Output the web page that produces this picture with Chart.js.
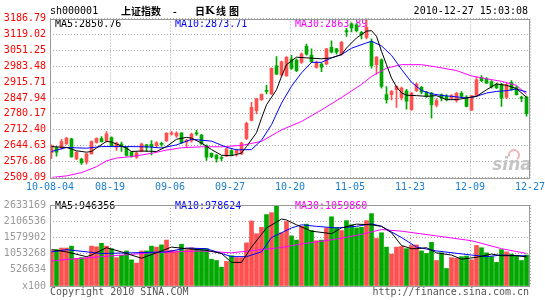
<!DOCTYPE html>
<html>
<head>
<meta charset="utf-8">
<script src="https://cdn.jsdelivr.net/npm/chart.js@4.4.1/dist/chart.umd.min.js"></script>
<style>
  html, body { margin: 0; padding: 0; background: #fff; }
  #wrap { position: relative; width: 545px; height: 300px; }
  canvas { position: absolute; left: 0; }
  #k { top: 0; }
  #v { top: 195px; }
</style>
</head>
<body>
<div id="wrap">
  <canvas id="k" width="545" height="195"></canvas>
  <canvas id="v" width="545" height="105"></canvas>
</div>
<script>
// values (one entry per trading day, 2010-08-04 .. 2010-12-27)
var dateLabels = ['10-08-04', '08-19', '09-06', '09-27', '10-20', '11-05', '11-23', '12-09', '12-27'];
var priceTicks = [2509.09, 2576.86, 2644.63, 2712.40, 2780.17, 2847.94, 2915.71, 2983.48, 3051.25, 3119.02, 3186.79];
var volTicks = [0, 526634, 1053268, 1579902, 2106536, 2633169];

var open = [2615, 2637, 2634, 2652, 2674, 2588, 2588, 2574, 2610, 2659, 2675, 2666, 2679, 2638, 2652, 2638,
  2617, 2596, 2620, 2648, 2650, 2645, 2655, 2665, 2694, 2686, 2699, 2660, 2666, 2700, 2690, 2645,
  2612, 2605, 2592, 2600, 2624, 2613, 2610, 2676, 2752, 2794, 2841, 2880, 2865, 2985, 2946, 2943,
  3014, 3010, 3000, 3068, 3031, 2978, 2993, 2993, 3064, 3057, 3035, 3135, 3164, 3160, 3128, 3106,
  3088, 2990, 3011, 2862, 2862, 2883, 2848, 2879, 2798, 2879, 2893, 2872, 2869, 2817, 2862, 2855,
  2848, 2838, 2868, 2852, 2796, 2858, 2935, 2930, 2918, 2906, 2905, 2850, 2914, 2892, 2852, 2852];
var high = [2648, 2640, 2672, 2680, 2676, 2620, 2592, 2612, 2665, 2678, 2684, 2705, 2682, 2660, 2660, 2640,
  2620, 2618, 2656, 2650, 2666, 2662, 2660, 2700, 2706, 2704, 2700, 2672, 2698, 2710, 2693, 2648,
  2614, 2607, 2600, 2632, 2628, 2630, 2660, 2745, 2830, 2846, 2866, 2902, 2976, 3024, 3005, 3025,
  3030, 3015, 3040, 3078, 3058, 3005, 2998, 3060, 3092, 3060, 3090, 3145, 3168, 3165, 3132, 3186.79,
  3100, 3025, 3015, 2897, 2880, 2900, 2895, 2885, 2872, 2912, 2898, 2876, 2872, 2845, 2866, 2862,
  2862, 2872, 2875, 2858, 2858, 2936, 2943, 2935, 2922, 2912, 2910, 2910, 2922, 2900, 2856, 2856];
var low = [2590, 2600, 2630, 2650, 2596, 2585, 2565, 2566, 2608, 2655, 2660, 2660, 2640, 2625, 2620, 2600,
  2596, 2590, 2618, 2620, 2605, 2640, 2642, 2663, 2690, 2680, 2654, 2640, 2660, 2688, 2650, 2582,
  2594, 2574, 2581, 2598, 2603, 2600, 2606, 2670, 2750, 2780, 2838, 2865, 2863, 2948, 2940, 2940,
  2970, 2960, 2995, 3030, 3000, 2975, 2960, 2990, 3040, 3035, 3030, 3110, 3130, 3130, 3100, 3100,
  2975, 2950, 2890, 2826, 2840, 2808, 2840, 2800, 2795, 2875, 2865, 2850, 2762, 2810, 2835, 2836,
  2845, 2830, 2850, 2810, 2794, 2855, 2918, 2910, 2890, 2888, 2812, 2845, 2880, 2860, 2832, 2770];
var close = [2645, 2617, 2662, 2676, 2597, 2617, 2571, 2610, 2662, 2676, 2662, 2695, 2642, 2656, 2644, 2603,
  2600, 2614, 2652, 2638, 2640, 2657, 2650, 2698, 2700, 2698, 2656, 2668, 2694, 2695, 2652, 2596,
  2598, 2588, 2590, 2631, 2606, 2624, 2656, 2740, 2808, 2844, 2864, 2876, 2974, 2950, 3002, 3021,
  2974, 2964, 3035, 3035, 3003, 3000, 2979, 3057, 3043, 3043, 3085, 3130, 3147, 3135, 3118, 3149,
  2985, 3022, 2897, 2841, 2876, 2898, 2890, 2834, 2869, 2907, 2873, 2856, 2819, 2837, 2848, 2842,
  2858, 2868, 2855, 2812, 2858, 2925, 2922, 2911, 2895, 2892, 2848, 2905, 2885, 2862, 2846, 2781];
var volume = [1150000, 1182000, 1234000, 1234000, 1296000, 902000, 923000, 923000, 1296000, 1275000, 1389000, 1296000,
  1213000, 923000, 1000000, 1140000, 850000, 746000, 1140000, 1140000, 1296000, 1265000, 1337000, 1493000,
  1161000, 1140000, 1358000, 1182000, 1244000, 1213000, 1213000, 1213000, 871000, 829000, 611000, 798000,
  985000, 923000, 923000, 1400000, 2115000, 1700000, 1908000, 2322000, 2384000, 2633169, 1731000, 2094000,
  1628000, 1493000, 1939000, 2011000, 1804000, 1472000, 1493000, 1887000, 2250000, 1908000, 1804000, 2125000,
  1990000, 1887000, 1908000, 2125000, 2353000, 1545000, 1731000, 1265000, 1037000, 1265000, 1286000, 1213000,
  1317000, 1337000, 1140000, 1057000, 1420000, 829000, 1078000, 570000, 922000, 902000, 954000, 974000,
  850000, 1317000, 1244000, 1078000, 954000, 767000, 1182000, 1109000, 1037000, 985000, 829000, 1006000];

// moving average lines, read as [day index, value]
var ma5K = [[0, 2641], [3, 2637], [5, 2623], [7, 2617], [8, 2620], [9, 2635], [11, 2663], [12, 2660], [13, 2652],
  [15, 2634], [16, 2620], [18, 2622], [21, 2620], [23, 2641], [25, 2672], [27, 2680], [28, 2677], [30, 2656],
  [32, 2628], [34, 2604], [36, 2602], [38, 2613], [39, 2641], [41, 2700], [42, 2762], [43, 2819], [45, 2883],
  [46, 2940], [47, 2990], [49, 3022], [51, 3019], [54, 3015], [56, 3019], [58, 3033], [59, 3061], [61, 3104],
  [63, 3133], [64, 3135], [65, 3111], [66, 3047], [67, 2990], [68, 2933], [69, 2895], [70, 2870], [71, 2860],
  [73, 2858], [75, 2855], [77, 2858], [79, 2841], [81, 2841], [83, 2848], [85, 2855], [87, 2883], [89, 2908],
  [91, 2902], [93, 2888], [95, 2851]];
var ma10K = [[0, 2620], [3, 2637], [7, 2634], [10, 2641], [15, 2641], [19, 2640], [22, 2635], [25, 2648], [28, 2672],
  [32, 2664], [35, 2638], [37, 2627], [40, 2628], [42, 2668], [44, 2734], [46, 2826], [48, 2898], [50, 2955],
  [52, 3000], [54, 3000], [56, 3019], [58, 3033], [60, 3060], [63, 3083], [64, 3090], [66, 3070], [68, 3030],
  [70, 2970], [72, 2915], [74, 2880], [76, 2866], [78, 2859], [80, 2855], [83, 2848], [85, 2855], [87, 2869],
  [89, 2876], [91, 2879], [93, 2886], [95, 2874]];
var ma30K = [[0, 2509.09], [3, 2516], [6, 2530], [9, 2555], [11, 2580], [13, 2592], [16, 2598], [20, 2612], [23, 2626],
  [26, 2636], [30, 2640], [34, 2640], [38, 2646], [42, 2663], [46, 2712], [50, 2748], [54, 2797], [58, 2850],
  [62, 2906], [64, 2940], [67, 2975], [70, 2990], [74, 2990], [77, 2980], [81, 2965], [84, 2942], [87, 2930],
  [90, 2919], [93, 2902], [95, 2864]];
var ma5V = [[0, 1182000], [3, 1109000], [7, 954000], [8, 1006000], [11, 1244000], [14, 1109000], [18, 902000],
  [22, 1140000], [24, 1265000], [27, 1213000], [31, 1161000], [34, 1057000], [36, 767000], [38, 767000],
  [40, 1265000], [43, 1887000], [46, 2177000], [47, 2146000], [49, 1990000], [52, 1783000], [56, 1700000],
  [58, 1887000], [61, 2011000], [64, 1990000], [66, 1939000], [68, 1731000], [70, 1317000], [72, 1213000],
  [73, 1213000], [75, 1244000], [77, 1078000], [80, 1006000], [82, 871000], [85, 933000], [88, 1037000],
  [90, 985000], [93, 985000], [95, 946356]];
var ma10V = [[0, 1109000], [3, 1182000], [10, 1057000], [16, 1078000], [23, 1109000], [27, 1234000], [31, 1213000],
  [36, 954000], [39, 954000], [42, 1109000], [44, 1576000], [46, 1731000], [48, 1887000], [50, 1990000],
  [53, 1939000], [57, 1887000], [61, 1939000], [64, 2022000], [66, 1939000], [70, 1576000], [73, 1265000],
  [77, 1140000], [84, 1006000], [87, 954000], [90, 1006000], [95, 978624]];
var ma30V = [[0, 819000], [10, 954000], [20, 1078000], [30, 1140000], [36, 1078000], [42, 1182000], [46, 1250000],
  [50, 1368000], [57, 1524000], [62, 1679000], [66, 1835000], [70, 1783000], [77, 1628000], [84, 1472000],
  [90, 1213000], [95, 1059860]];

var maTextK = ['MA5:2850.76', 'MA10:2873.71', 'MA30:2863.89'];
var maTextV = ['MA5:946356', 'MA10:978624', 'MA30:1059860'];

var RED = '#ff5050', GREEN = '#00a800';
var MA_COLORS = ['#000000', '#0000ff', '#ff00ff'];
var MONO = '"DejaVu Sans Mono", monospace';
var CJK = 'bold 10px "Noto Sans CJK SC"';

var up = close.map(function (c, i) { return c >= open[i]; });
var barColors = up.map(function (u) { return u ? RED : GREEN; });

function pts(arr) { return arr.map(function (p) { return {x: p[0], y: p[1]}; }); }

var xTickVals = dateLabels.map(function (_, k) { return k * 12 - 0.3; });

function xScale(showLabels) {
  return {
    type: 'linear', min: -0.3, max: 95.7, offset: false,
    afterBuildTicks: function (s) { s.ticks = xTickVals.map(function (v) { return {value: v}; }); },
    ticks: {
      display: showLabels, autoSkip: false, maxRotation: 0, padding: 4,
      color: '#1a7fd0', font: {family: MONO, size: 10},
      callback: function (v, i) { return dateLabels[i]; }
    },
    grid: {color: '#a8a8a8', drawTicks: false, offset: false},
    border: {display: false, dash: [1, 2]},
    afterFit: function (s) { s.height = showLabels ? 17.5 : 0; s.paddingLeft = 0; s.paddingRight = 0; }
  };
}

function lineSet(arr, color) {
  return {type: 'line', data: pts(arr), borderColor: color, borderWidth: 1, pointRadius: 0,
    tension: 0, fill: false, order: 1};
}

function textAt(ctx, str, x, y, color, font, align) {
  ctx.save();
  ctx.font = font;
  ctx.fillStyle = color;
  ctx.textAlign = align || 'left';
  ctx.textBaseline = 'middle';
  ctx.fillText(str, x, y);
  ctx.restore();
}

var framePlugin = {
  id: 'frame',
  afterDraw: function (chart) {
    var a = chart.chartArea, ctx = chart.ctx;
    ctx.save();
    ctx.strokeStyle = '#999';
    ctx.lineWidth = 1;
    ctx.strokeRect(Math.round(a.left) + 0.5, Math.round(a.top) + 0.5,
      Math.round(a.right - a.left) - 1, Math.round(a.bottom - a.top));
    ctx.restore();
  }
};

var kTextPlugin = {
  id: 'ktext',
  beforeDatasetsDraw: function (chart) {
    var ctx = chart.ctx;
    var f = '10px ' + MONO;
    textAt(ctx, 'sh000001', 50, 11, '#000', f);
    textAt(ctx, '上证指数', 121, 11, '#000', CJK);
    textAt(ctx, '-', 173, 11, '#000', CJK);
    textAt(ctx, '日', 195, 11, '#000', CJK);
    textAt(ctx, 'K', 205, 11, '#000', 'bold 11px "DejaVu Serif"');
    textAt(ctx, '线', 216, 11, '#000', CJK);
    textAt(ctx, '图', 229, 11, '#000', CJK);
    textAt(ctx, '2010-12-27 15:03:08', 528, 11, '#000', f, 'right');
    maTextK.forEach(function (t, k) { textAt(ctx, t, 55 + k * 120, 24, MA_COLORS[k], f); });
    // sina watermark
    ctx.save();
    ctx.strokeStyle = '#f0b8b8';
    ctx.lineWidth = 2;
    ctx.beginPath();
    ctx.arc(514, 155, 5, Math.PI * 0.9, Math.PI * 2.3);
    ctx.stroke();
    ctx.restore();
    textAt(ctx, 'sina', 512, 166, '#c4c4c4', 'italic bold 17px "DejaVu Sans"', 'center');
  }
};

var vTextPlugin = {
  id: 'vtext',
  beforeDatasetsDraw: function (chart) {
    var ctx = chart.ctx;
    var f = '10px ' + MONO;
    maTextV.forEach(function (t, k) { textAt(ctx, t, 55 + k * 120, 11.5, MA_COLORS[k], f); });
  },
  afterDraw: function (chart) {
    var ctx = chart.ctx;
    var f = '10px ' + MONO;
    textAt(ctx, 'Copyright 2010 SINA.COM', 50, 97.5, '#555', f);
    textAt(ctx, 'http://finance.sina.com.cn', 529, 97.5, '#555', f, 'right');
  }
};

new Chart(document.getElementById('k'), {
  type: 'bar',
  data: {
    datasets: [
      lineSet(ma5K, MA_COLORS[0]),
      lineSet(ma10K, MA_COLORS[1]),
      lineSet(ma30K, MA_COLORS[2]),
      {
        data: open.map(function (o, i) { return {x: i, y: [o, close[i]]}; }),
        backgroundColor: barColors, barThickness: 3, minBarLength: 1, grouped: false, order: 2
      },
      {
        data: open.map(function (o, i) { return {x: i, y: [low[i], high[i]]}; }),
        backgroundColor: barColors, barThickness: 1, grouped: false, order: 3
      }
    ]
  },
  options: {
    responsive: false, animation: false, events: [],
    layout: {padding: {top: 18.5, right: 15, bottom: 0, left: 0}},
    plugins: {legend: {display: false}, tooltip: {enabled: false}},
    scales: {
      x: xScale(true),
      y: {
        type: 'linear', min: priceTicks[0], max: priceTicks[priceTicks.length - 1], beginAtZero: false,
        afterBuildTicks: function (s) { s.ticks = priceTicks.map(function (v) { return {value: v}; }); },
        ticks: {
          color: '#ff0000', font: {family: MONO, size: 10}, padding: 4,
          callback: function (v) { return v.toFixed(2); }
        },
        grid: {color: '#a8a8a8', drawTicks: false},
        border: {display: false, dash: [1, 2]},
        afterFit: function (s) { s.width = 50; }
      }
    }
  },
  plugins: [kTextPlugin, framePlugin]
});

new Chart(document.getElementById('v'), {
  type: 'bar',
  data: {
    datasets: [
      lineSet(ma5V, MA_COLORS[0]),
      lineSet(ma10V, MA_COLORS[1]),
      lineSet(ma30V, MA_COLORS[2]),
      {
        data: volume.map(function (v, i) { return {x: i, y: v}; }),
        backgroundColor: barColors, barThickness: 4, grouped: false, order: 2
      }
    ]
  },
  options: {
    responsive: false, animation: false, events: [],
    layout: {padding: {top: 6, right: 15, bottom: 14, left: 0}},
    plugins: {legend: {display: false}, tooltip: {enabled: false}},
    scales: {
      x: xScale(false),
      y: {
        type: 'linear', min: 0, max: volTicks[volTicks.length - 1],
        afterBuildTicks: function (s) { s.ticks = volTicks.map(function (v) { return {value: v}; }); },
        ticks: {
          color: '#999', font: {family: MONO, size: 10}, padding: 4,
          callback: function (v) { return v === 0 ? 'x100' : String(v); }
        },
        grid: {color: '#a8a8a8', drawTicks: false},
        border: {display: false, dash: [1, 2]},
        afterFit: function (s) { s.width = 50; }
      }
    }
  },
  plugins: [vTextPlugin, framePlugin]
});
</script>
</body>
</html>
